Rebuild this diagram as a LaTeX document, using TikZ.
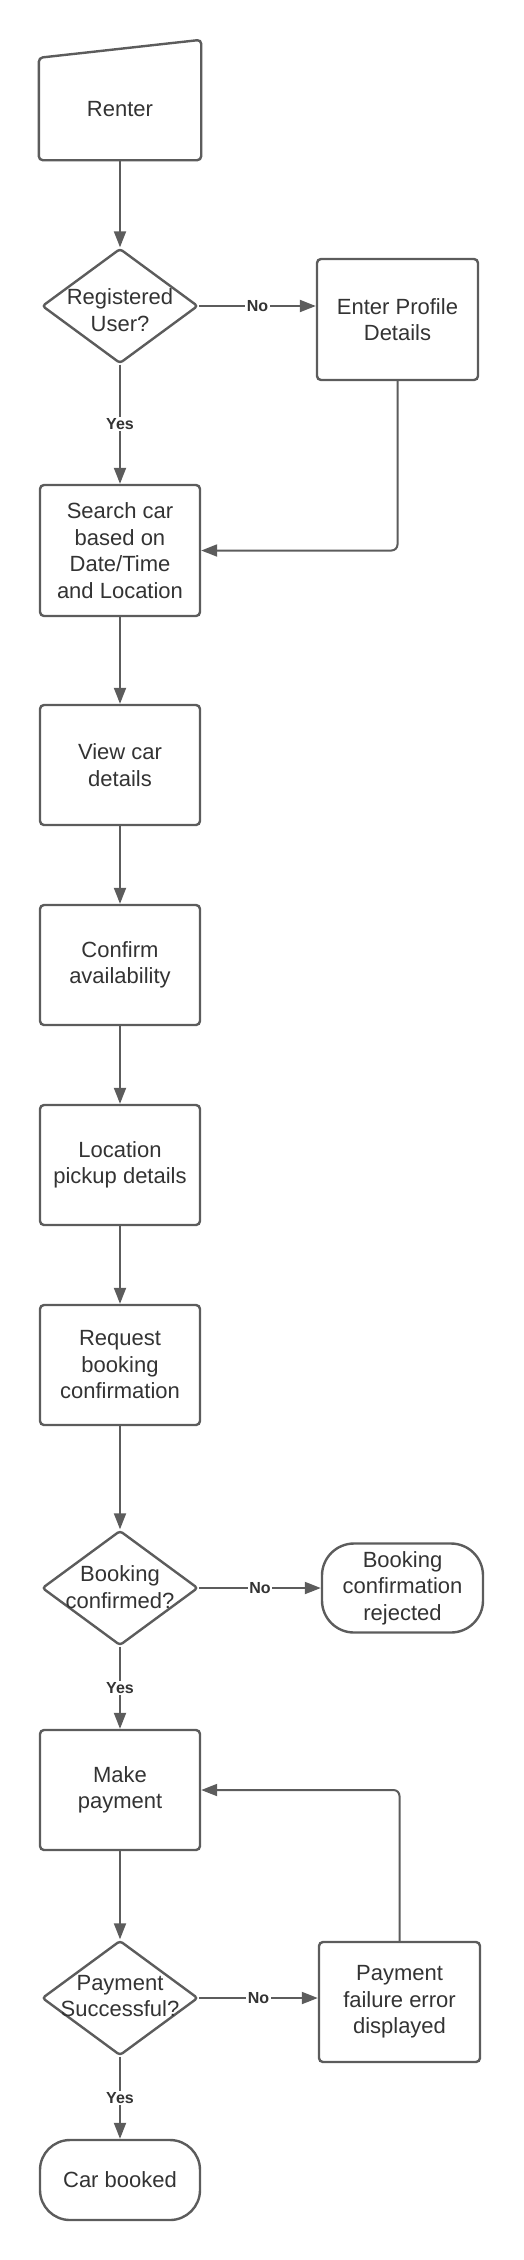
\documentclass[tikz,border=0pt]{standalone}
\usepackage{fontspec}
\setmainfont{Liberation Sans}
\usepackage{tikz}
\usetikzlibrary{shapes.geometric,arrows.meta,positioning,calc}
\definecolor{linegray}{HTML}{5C5C5C}
\definecolor{textgray}{HTML}{333333}

\begin{document}
\begin{tikzpicture}[x=1pt, y=-1pt,
    process/.style={rectangle, draw=linegray, line width=2.4pt, rounded corners=4pt, minimum width=160pt, minimum height=120pt, align=center, text=textgray, font=\fontsize{22}{26.5}\selectfont, inner sep=0pt},
    decision/.style={diamond, draw=linegray, line width=2.4pt, rounded corners=3pt, minimum width=156pt, minimum height=115pt, inner sep=0pt},
    terminal/.style={process, rounded corners=30pt, minimum height=80pt},
    caption/.style={align=center, text=textgray, font=\fontsize{22}{26.5}\selectfont, inner sep=0pt},
    answer/.style={fill=white, inner sep=1.5pt, text=textgray, font=\fontsize{16}{16}\selectfont\bfseries},
    flow/.style={draw=linegray, line width=2pt, -{Triangle[length=16pt,width=12pt]}}
]
\useasboundingbox (0,0) rectangle (523,2260);

% Start
\node[process, draw=none, minimum height=100pt] (renter) at (120,109) {Renter};
\draw[linegray, line width=2.4pt, rounded corners=4pt] (renter.north west) -- ([yshift=18pt]renter.north east) -- (renter.south east) -- (renter.south west) -- cycle;

% Registration check
\node[decision] (registered) at (120,306) {};
\node[caption] (registeredtxt) at (120,310) {Registered\\User?};
\node[process, minimum width=161pt, minimum height=121pt] (profile) at (397.5,319.5) {Enter Profile\\Details};

% Search and booking steps
\node[process, minimum height=131pt] (search) at (120,550.5) {Search car\\based on\\Date/Time\\and Location};
\node[process] (viewcar) at (120,765) {View car\\details};
\node[process] (confirm) at (120,965) {Confirm\\availability};
\node[process] (pickup) at (120,1165) {Location\\pickup details};
\node[process] (request) at (120,1365) {Request\\booking\\confirmation};

% Booking check
\node[decision] (bookingq) at (120,1588) {};
\node[caption] (bookingqtxt) at (120,1587) {Booking\\confirmed?};
\node[terminal, minimum width=161pt, minimum height=89pt, rounded corners=32pt] (rejected) at (402.5,1588) {Booking\\confirmation\\rejected};

% Payment
\node[process] (payment) at (120,1790) {Make\\payment};
\node[decision] (paymentq) at (120,1998) {};
\node[caption] (paymentqtxt) at (120,1996) {Payment\\Successful?};
\node[process, minimum width=161pt] (failure) at (399.5,2002) {Payment\\failure error\\displayed};
\node[terminal] (booked) at (120,2180) {Car booked};

% Connectors
\draw[flow] (renter) -- (registered);
\draw[flow] (registered.east) -- node[answer] {No} (registered.east -| profile.west);
\draw[flow] (registered) -- node[answer] {Yes} (search);
\draw[flow, rounded corners=6pt] (profile.south) |- (search.east);
\draw[flow] (search) -- (viewcar);
\draw[flow] (viewcar) -- (confirm);
\draw[flow] (confirm) -- (pickup);
\draw[flow] (pickup) -- (request);
\draw[flow] (request) -- (bookingq);
\draw[flow] (bookingq) -- node[answer] {No} (rejected);
\draw[flow] (bookingq) -- node[answer] {Yes} (payment);
\draw[flow] (payment) -- (paymentq);
\draw[flow] (paymentq.east) -- node[answer] {No} (paymentq.east -| failure.west);
\draw[flow, rounded corners=6pt] (failure.north) |- (payment.east);
\draw[flow] (paymentq) -- node[answer] {Yes} (booked);

\end{tikzpicture}
\end{document}
